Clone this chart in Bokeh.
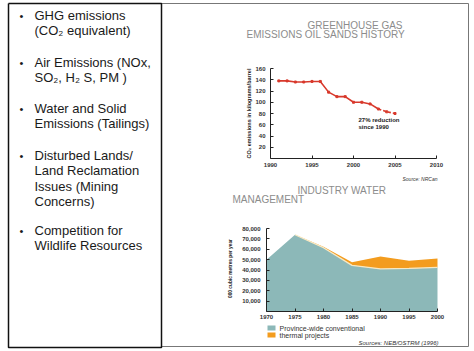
from math import pi
from bokeh.plotting import figure
from bokeh.models import Range1d, LinearAxis, FixedTicker, NumeralTickFormatter
from bokeh.core.properties import value
from bokeh.embed import file_html
from bokeh.resources import INLINE

# ---------------- data ----------------
bullet_items = [
    ["GHG emissions", "(CO\u2082 equivalent)"],
    ["Air Emissions (NOx,", "SO\u2082, H\u2082 S, PM )"],
    ["Water and Solid", "Emissions (Tailings)"],
    ["Disturbed Lands/", "Land Reclamation", "Issues (Mining", "Concerns)"],
    ["Competition for", "Wildlife Resources"],
]

ghg_title = ["GREENHOUSE GAS", "EMISSIONS OIL SANDS HISTORY"]
ghg_ylabel = "CO\u2082 emissions in kilograms/barrel"
ghg_years = [1991, 1992, 1993, 1994, 1995, 1996, 1997, 1998, 1999, 2000,
             2001, 2002, 2003, 2004, 2005]
ghg_values = [138, 138, 136, 136, 137, 137, 118, 110, 110, 100,
              100, 97, 88, 83, 80]
ghg_x_ticks = [1990, 1995, 2000, 2005, 2010]
ghg_y_ticks = [20, 40, 60, 80, 100, 120, 140, 160]
ghg_note = ["27% reduction", "since 1990"]
ghg_source = "Source: NRCan"

water_title = ["INDUSTRY WATER", "MANAGEMENT"]
water_ylabel = "000 cubic metres per year"
water_years = [1970, 1975, 1980, 1985, 1990, 1995, 2000]
conventional = [50000, 74000, 61500, 44500, 41000, 41500, 42500]
thermal = [0, 0, 800, 3000, 12000, 7500, 8500]
water_x_ticks = [1970, 1975, 1980, 1985, 1990, 1995, 2000]
water_y_ticks = [10000, 20000, 30000, 40000, 50000, 60000, 70000, 80000]
water_legend = ["Province-wide conventional", "thermal projects"]
water_source = "Sources: NEB/OSTRM (1996)"

# ---------------- layout helpers ----------------
W, H = 474, 351
FONT = value("Liberation Sans")


def mapped_range(v0, p0, v1, p1, lo, hi):
    k = (v1 - v0) / (p1 - p0)
    return Range1d(start=v0 + (lo - p0) * k, end=v0 + (hi - p0) * k)


p = figure(width=W, height=H, x_range=Range1d(0, W), y_range=Range1d(H, 0),
           x_axis_type=None, y_axis_type=None, min_border=0,
           toolbar_location=None, output_backend="svg",
           outline_line_color=None, background_fill_color="white",
           border_fill_color="white")

p.extra_x_ranges = {
    "gx": mapped_range(1990, 270, 2010, 436, 0, W),
    "wx": mapped_range(1970, 266, 2000, 437, 0, W),
}
p.extra_y_ranges = {
    "gy": mapped_range(0, 158, 160, 68, H, 0),
    "wy": mapped_range(0, 311, 80000, 228, H, 0),
}


def txt(xs, ys, texts, size, color="#222222", align="left", style="normal",
        angle=0.0, baseline="middle"):
    p.text(x=xs, y=ys, text=texts, text_font=FONT, text_font_size=value(size),
           text_color=color, text_align=align, text_baseline=baseline,
           text_font_style=style, angle=angle)


# ---------------- frames ----------------
p.line([161, 468, 468, 161], [3, 3, 346, 346], line_color="#777777", line_width=1)
p.line([8, 161, 161, 8, 8], [3, 3, 347, 347, 3], line_color="#111111", line_width=1.5)

# ---------------- left text panel ----------------
starts = [15, 62, 108, 155, 230]
step = 15.4
lx, ly, lt = [], [], []
for s, lines in zip(starts, bullet_items):
    for i, line in enumerate(lines):
        lx.append(34)
        ly.append(s + i * step)
        lt.append(line)
txt(lx, ly, lt, "13px", color="#1a1a1a")
txt([21] * len(starts), starts, ["\u2022"] * len(starts), "11px", color="#1a1a1a",
    align="center")

# ---------------- greenhouse gas chart ----------------
txt([307, 246], [25, 34], ghg_title, "10px", color="#8c8c8c")
txt([248], [113], [ghg_ylabel], "5.5px", color="#222222", style="bold",
    angle=pi / 2, align="center")

red = "#d8392c"
p.line(ghg_years[:13], ghg_values[:13], x_range_name="gx", y_range_name="gy",
       line_color=red, line_width=1.6)
p.line(ghg_years[12:], ghg_values[12:], x_range_name="gx", y_range_name="gy",
       line_color=red, line_width=1.6, line_dash="3 2")
p.scatter(ghg_years, ghg_values, x_range_name="gx", y_range_name="gy",
          marker="square", size=2.0, color=red)

txt([358, 358], [119, 126], ghg_note, "6px", color="#222222", style="bold")
txt([437], [178], [ghg_source], "5px", color="#333333", align="right",
    style="italic")


def style_axis(ax, standoff):
    ax.axis_line_color = "#222222"
    ax.axis_line_width = 1
    ax.major_tick_line_color = "#222222"
    ax.major_tick_in = 3
    ax.major_tick_out = 0
    ax.minor_tick_line_color = None
    ax.major_label_text_font = "Liberation Sans"
    ax.major_label_text_font_size = "6px"
    ax.major_label_text_font_style = "bold"
    ax.major_label_text_color = "#333333"
    ax.major_label_standoff = standoff


gxa = LinearAxis(x_range_name="gx", y_range_name="gy", fixed_location=0,
                 bounds=(1990, 2010), ticker=FixedTicker(ticks=ghg_x_ticks))
style_axis(gxa, 4)
p.add_layout(gxa, "below")

gya = LinearAxis(x_range_name="gx", y_range_name="gy", fixed_location=1990,
                 bounds=(0, 160), ticker=FixedTicker(ticks=ghg_y_ticks))
style_axis(gya, 5)
p.add_layout(gya, "left")

# ---------------- water chart ----------------
txt([297, 232], [190, 199], water_title, "10px", color="#8c8c8c")
txt([230], [268], [water_ylabel], "4.8px", color="#222222", style="bold",
    angle=pi / 2, align="center")

teal = "#8cb8b8"
orange = "#f39c1e"
total = [c + t for c, t in zip(conventional, thermal)]
p.varea(x=water_years, y1=0, y2=conventional, x_range_name="wx",
        y_range_name="wy", fill_color=teal)
p.varea(x=water_years, y1=conventional, y2=total, x_range_name="wx",
        y_range_name="wy", fill_color=orange)
p.line(water_years[1:], conventional[1:], x_range_name="wx", y_range_name="wy",
       line_color="#f6e8c4", line_width=1.3)

wxa = LinearAxis(x_range_name="wx", y_range_name="wy", fixed_location=0,
                 bounds=(1970, 2000), ticker=FixedTicker(ticks=water_x_ticks))
style_axis(wxa, 3)
p.add_layout(wxa, "below")

wya = LinearAxis(x_range_name="wx", y_range_name="wy", fixed_location=1970,
                 bounds=(0, 80000), ticker=FixedTicker(ticks=water_y_ticks),
                 formatter=NumeralTickFormatter(format="0,0"))
style_axis(wya, 6)
p.add_layout(wya, "left")

# legend swatches and labels
p.quad(left=[267, 267], right=[275, 275], top=[325, 332], bottom=[330, 337],
       fill_color=[teal, orange], line_color=None)
txt([279, 279], [327.5, 334.5], water_legend, "7px", color="#333333")
txt([438], [342], [water_source], "6px", color="#333333", align="right",
    style="italic")

open("out.html", "w").write(file_html(p, INLINE))
